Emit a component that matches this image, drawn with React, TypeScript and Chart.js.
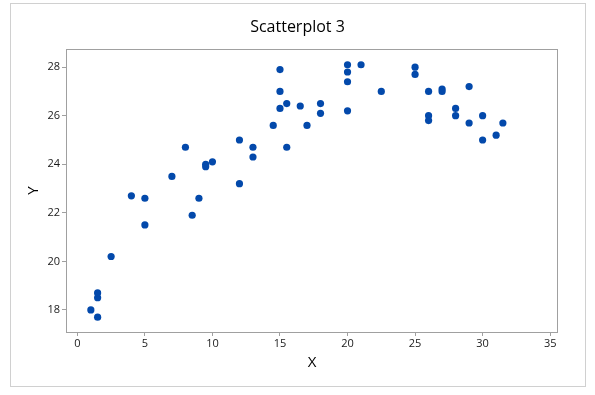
import React, { useEffect, useRef } from 'react';
import { Chart, registerables } from 'chart.js';

Chart.register(...registerables);

const xValues = [1.0, 1.5, 1.5, 1.5, 2.5, 4.0, 5.0, 5.0, 7.0, 8.0, 8.5, 9.0, 9.5, 9.5, 10.0, 12.0, 12.0, 13.0, 13.0, 14.5, 15.0, 15.0, 15.0, 15.5, 15.5, 16.5, 17.0, 18.0, 18.0, 20.0, 20.0, 20.0, 20.0, 21.0, 22.5, 25.0, 25.0, 26.0, 26.0, 26.0, 27.0, 27.0, 28.0, 28.0, 29.0, 29.0, 30.0, 30.0, 31.0, 31.5];
const yValues = [18.0, 17.7, 18.5, 18.7, 20.2, 22.7, 22.6, 21.5, 23.5, 24.7, 21.9, 22.6, 24.0, 23.9, 24.1, 25.0, 23.2, 24.7, 24.3, 25.6, 27.9, 27.0, 26.3, 26.5, 24.7, 26.4, 25.6, 26.5, 26.1, 28.1, 27.8, 27.4, 26.2, 28.1, 27.0, 28.0, 27.7, 27.0, 26.0, 25.8, 27.1, 27.0, 26.3, 26.0, 27.2, 25.7, 26.0, 25.0, 25.2, 25.7];
const xTicks = [0, 5, 10, 15, 20, 25, 30, 35];
const yTicks = [18, 20, 22, 24, 26, 28];
const chartTitle = 'Scatterplot 3';
const xTitle = 'X';
const yTitle = 'Y';

const FONT = '"Open Sans", "Noto Sans", "DejaVu Sans", sans-serif';

const framePlugin = {
  id: 'frame',
  afterLayout(chart: any) {
    const tb = chart.titleBlock;
    if (tb) {
      tb.left = 0;
      tb.right = chart.width;
      tb.width = chart.width;
    }
  },
  beforeDraw(chart: any) {
    const ctx = chart.ctx;
    ctx.save();
    ctx.fillStyle = '#ffffff';
    ctx.fillRect(0, 0, chart.width, chart.height);
    ctx.strokeStyle = '#d0d0d0';
    ctx.lineWidth = 1;
    ctx.strokeRect(10.5, 3.5, 575, 383);
    ctx.restore();
  },
  beforeDatasetsDraw(chart: any) {
    const { ctx, chartArea } = chart;
    ctx.save();
    ctx.strokeStyle = '#a0a0a0';
    ctx.lineWidth = 1;
    const l = Math.round(chartArea.left) + 0.5;
    const t = Math.round(chartArea.top) + 0.5;
    const r = Math.round(chartArea.right) - 0.5;
    const b = Math.round(chartArea.bottom) + 0.5;
    ctx.strokeRect(l, t, r - l, b - t);
    ctx.restore();
  },
};

export default function App() {
  const ref = useRef<HTMLCanvasElement>(null);
  useEffect(() => {
    if (!ref.current) return;
    const points = xValues.map((x, i) => ({ x, y: yValues[i] }));
    const chart = new Chart(ref.current, {
      type: 'scatter',
      data: {
        datasets: [
          {
            data: points,
            backgroundColor: '#0349ab',
            borderColor: '#0349ab',
            borderWidth: 0,
            pointRadius: 3.6,
            pointHoverRadius: 3.6,
          },
        ],
      },
      plugins: [framePlugin],
      options: {
        responsive: false,
        animation: false,
        devicePixelRatio: 1,
        layout: { padding: { top: 0, left: 0, right: 37, bottom: 0 } },
        plugins: {
          legend: { display: false },
          tooltip: { enabled: false },
          title: {
            display: true,
            text: chartTitle,
            color: '#000000',
            font: { family: FONT, size: 16, weight: 'normal', lineHeight: 1.2 },
            padding: { top: 18, bottom: 12 },
          },
        },
        scales: {
          x: {
            type: 'linear',
            min: -0.84,
            max: 35.58,
            afterBuildTicks: (scale: any) => {
              scale.ticks = xTicks.map((v) => ({ value: v }));
            },
            afterFit: (scale: any) => {
              scale.height = 63;
            },
            border: { display: false },
            grid: { drawOnChartArea: false, drawTicks: true, tickLength: 4, color: '#a0a0a0' },
            ticks: { font: { family: FONT, size: 11 }, color: '#1a1a1a', padding: 1, maxRotation: 0 },
            title: {
              display: true,
              text: xTitle,
              color: '#000000',
              font: { family: FONT, size: 15, lineHeight: 1.2 },
              padding: { top: 0, bottom: 23 },
            },
          },
          y: {
            type: 'linear',
            min: 17.09,
            max: 28.74,
            afterBuildTicks: (scale: any) => {
              scale.ticks = yTicks.map((v) => ({ value: v }));
            },
            afterFit: (scale: any) => {
              scale.width = 66;
            },
            border: { display: false },
            grid: { drawOnChartArea: false, drawTicks: true, tickLength: 4, color: '#a0a0a0' },
            ticks: { font: { family: FONT, size: 11 }, color: '#1a1a1a', padding: 2 },
            title: {
              display: true,
              text: yTitle,
              color: '#000000',
              font: { family: FONT, size: 15, lineHeight: 1.2 },
              padding: { top: 25, bottom: 0 },
            },
          },
        },
      },
    } as any);
    return () => chart.destroy();
  }, []);
  return (
    <div style={{ position: 'fixed', left: 0, top: 0, width: 595, height: 395, background: '#fff' }}>
      <canvas ref={ref} width={595} height={395} style={{ display: 'block', width: 595, height: 395 }} />
    </div>
  );
}
